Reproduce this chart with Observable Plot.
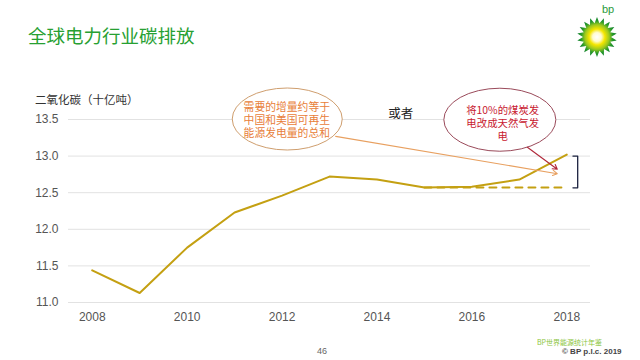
<!DOCTYPE html>
<html>
<head>
<meta charset="utf-8">
<script src="https://cdn.jsdelivr.net/npm/d3@7"></script>
<script src="https://cdn.jsdelivr.net/npm/@observablehq/plot@0.6"></script>
<style>
  html, body { margin: 0; padding: 0; background: #fff; }
  #wrap { position: relative; width: 640px; height: 360px; overflow: hidden; background: #fff;
          font-family: 'Liberation Sans', 'Noto Sans CJK SC', sans-serif; }
  #chart { position: absolute; left: 0; top: 0; }
  .ov { position: absolute; line-height: 1; white-space: nowrap; }
</style>
</head>
<body>
<div id="wrap">
  <div id="chart"></div>
  <div class="ov" style="left:28px;top:26px;font-size:18.5px;color:#27a032;font-family:'Noto Sans CJK SC',sans-serif;">全球电力行业碳排放</div>
  <div class="ov" style="left:35px;top:94px;font-size:11.5px;color:#333;font-family:'Noto Sans CJK SC',sans-serif;">二氧化碳（十亿吨）</div>
  <div class="ov" style="left:602px;top:4px;font-size:11px;color:#2a9a3a;">bp</div>
  <svg id="logo" class="ov" style="left:576px;top:16px;" width="42" height="42" viewBox="-21 -21 42 42"></svg>
  <div class="ov" style="left:317px;top:347px;font-size:9px;color:#666;">46</div>
  <div class="ov" style="left:537px;top:339px;font-size:7px;color:#8cc63f;font-family:'Noto Sans CJK SC',sans-serif;">BP世界能源统计年鉴</div>
  <div class="ov" style="left:562px;top:348px;font-size:8px;color:#444;font-weight:bold;">© BP p.l.c. 2019</div>
</div>
<script>
// ---- data ----
const years = [2008, 2009, 2010, 2011, 2012, 2013, 2014, 2015, 2016, 2017, 2018];
const emissions = [11.44, 11.13, 11.75, 12.23, 12.46, 12.72, 12.68, 12.57, 12.58, 12.68, 13.02];
const flatYears = [2015, 2018];
const flatValue = 12.57;
const yTicks = [11.0, 11.5, 12.0, 12.5, 13.0, 13.5];
const xTicks = [2008, 2010, 2012, 2014, 2016, 2018];
const noteOrange = "需要的增量约等于\n中国和美国可再生\n能源发电量的总和";
const noteRed = "将10%的煤炭发\n电改成天然气发\n电";
const noteOr = "或者";

// ---- derived tables ----
const series = years.map((year, i) => ({year, value: emissions[i]}));
const flat = flatYears.map(year => ({year, value: flatValue}));

const gold = "#c4a012";
const bubbles = [
  {x: 2012.12, y: 13.5, rx: 55, ry: 31, stroke: "#cf9e6e"},
  {x: 2016.6, y: 13.49, rx: 56, ry: 31.5, stroke: "#9a4a5a"}
];

function ellipseMark(index, scales) {
  const g = d3.create("svg:g");
  for (const b of bubbles) {
    g.append("ellipse")
      .attr("cx", scales.x(b.x)).attr("cy", scales.y(b.y))
      .attr("rx", b.rx).attr("ry", b.ry)
      .attr("fill", "#fff").attr("stroke", b.stroke).attr("stroke-width", 1);
  }
  return g.node();
}

const bracket = [
  {year: 2018.13, value: 13.0}, {year: 2018.23, value: 13.0},
  {year: 2018.23, value: 12.567}, {year: 2018.13, value: 12.567}
];

const chart = Plot.plot({
  width: 640,
  height: 360,
  marginLeft: 68,
  marginRight: 50,
  marginTop: 119,
  marginBottom: 58,
  style: {fontFamily: "'Liberation Sans','Noto Sans CJK SC',sans-serif", fontSize: "12px", background: "transparent", overflow: "visible", color: "#555"},
  x: {domain: [2007.5, 2018.5]},
  y: {domain: [11, 13.5]},
  marks: [
    Plot.ruleY(yTicks, {stroke: "#e2e2e2", strokeWidth: 1}),
    Plot.axisY({ticks: yTicks, tickFormat: d3.format(".1f"), tickSize: 0, tickPadding: 10, label: null, fill: "#555"}),
    Plot.axisX({ticks: xTicks, tickFormat: "d", tickSize: 0, tickPadding: 10, label: null, fill: "#555"}),
    ellipseMark,
    Plot.text([noteOr], {x: 2014.5, y: 13.58, text: d => d, fill: "#222", fontSize: 12.5}),
    Plot.line(flat, {x: "year", y: "value", stroke: gold, strokeWidth: 2, strokeDasharray: "7,6"}),
    Plot.line(series, {x: "year", y: "value", stroke: gold, strokeWidth: 2}),
    Plot.line(bracket, {x: "year", y: "value", stroke: "#1c2340", strokeWidth: 1.3}),
    Plot.arrow([0], {x1: 2013.13, y1: 13.27, x2: 2017.8, y2: 12.76, stroke: "#e8a060", strokeWidth: 1.1, headLength: 7}),
    Plot.arrow([0], {x1: 2017.17, y1: 13.12, x2: 2017.8, y2: 12.82, stroke: "#b0283a", strokeWidth: 1.1, headLength: 7}),
    Plot.text([noteOrange], {x: 2012.1, y: 13.5, text: d => d, fill: "#e8803a", fontSize: 10.8, lineHeight: 1.22, fontFamily: "'Noto Sans CJK SC',sans-serif"}),
    Plot.text([noteRed], {x: 2016.65, y: 13.452, text: d => d, fill: "#c8202f", fontSize: 10.4, lineHeight: 1.22, fontFamily: "'Noto Sans CJK SC',sans-serif"})
  ]
});
document.getElementById("chart").appendChild(chart);

// ---- bp helios logo (decoration) ----
(function () {
  const svg = d3.select("#logo");
  const defs = svg.append("defs");
  const grad = defs.append("radialGradient").attr("id", "helios");
  [["0%", "#ffffff"], ["22%", "#fffbd0"], ["40%", "#f4e600"], ["62%", "#9cc81e"], ["80%", "#2a9a2a"], ["100%", "#0b7d2c"]]
    .forEach(([o, c]) => grad.append("stop").attr("offset", o).attr("stop-color", c));
  const n = 18, pts = [];
  for (let i = 0; i < 2 * n; i++) {
    const r = i % 2 === 0 ? 20 : 14;
    const a = Math.PI * i / n - Math.PI / 2;
    pts.push([r * Math.cos(a), r * Math.sin(a)]);
  }
  svg.append("polygon").attr("points", pts.map(p => p.join(",")).join(" ")).attr("fill", "url(#helios)");
})();
</script>
</body>
</html>
